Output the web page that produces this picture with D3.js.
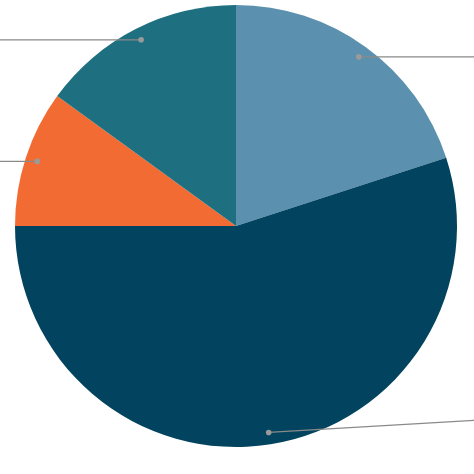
<!DOCTYPE html>
<html><head><meta charset="utf-8">
<script src="https://cdn.jsdelivr.net/npm/d3@7"></script>
<style>body{margin:0;background:#fff}</style></head>
<body><svg id="c" width="474" height="474"></svg>
<script>
const categories = ["A","B","C","D"];
const values = [20, 55, 10, 15];
const colors = ["#5b90ae","#02445f","#f26b32","#1e6f7f"];

const W=474,H=474,cx=236,cy=226,R=221;
const svg=d3.select("#c");
const g=svg.append("g").attr("transform",`translate(${cx},${cy})`);
const pie=d3.pie().sort(null)(values);
const arc=d3.arc().innerRadius(0).outerRadius(R);
const lab=d3.arc().innerRadius(209).outerRadius(209);
g.selectAll("path").data(pie).join("path").attr("d",arc).attr("fill",(d,i)=>colors[i]);
pie.forEach((d,i)=>{
  const [x,y]=lab.centroid(d);
  const right=x>0;
  const ex=right?W-cx:-cx;
  const ey=y>150?y-12:y;
  g.append("line").attr("x1",x).attr("y1",y).attr("x2",ex).attr("y2",ey)
    .attr("stroke","#8a8a8a").attr("stroke-width",1.3);
  g.append("circle").attr("cx",x).attr("cy",y).attr("r",2.8).attr("fill","#9a9a9a");
});
</script></body></html>
